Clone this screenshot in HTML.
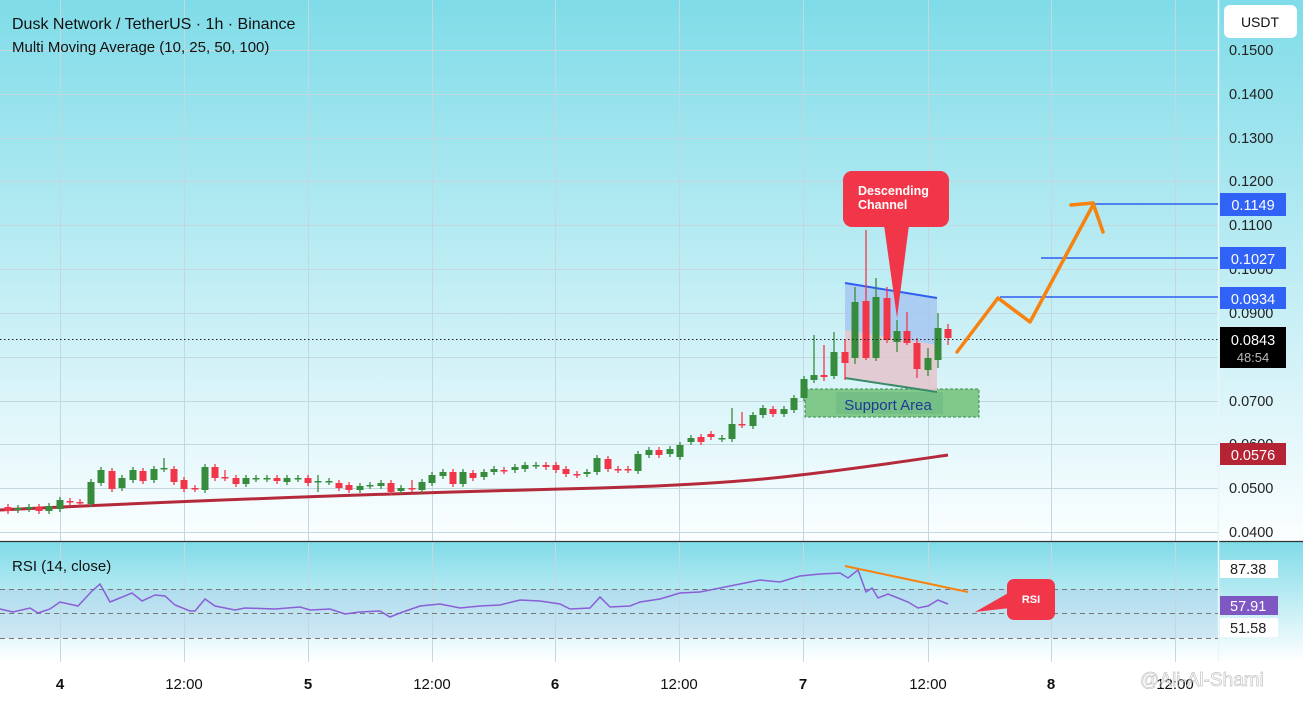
<!DOCTYPE html>
<html><head><meta charset="utf-8"><style>
body{margin:0;width:1303px;height:702px;overflow:hidden;font-family:"Liberation Sans",sans-serif;background:#fff}
</style></head><body>
<svg id="s" width="1303" height="702" xmlns="http://www.w3.org/2000/svg" font-family="Liberation Sans, sans-serif">
<defs>
<linearGradient id="g1" x1="0" y1="0" x2="0" y2="1"><stop offset="0" stop-color="#7fdce8"/><stop offset="0.55" stop-color="#c4eef5"/><stop offset="1" stop-color="#fbfeff"/></linearGradient>
<linearGradient id="g2" x1="0" y1="0" x2="0" y2="1"><stop offset="0" stop-color="#80dbe8"/><stop offset="1" stop-color="#ffffff"/></linearGradient>
</defs>
<rect x="0" y="0" width="1303" height="541" fill="url(#g1)"/>
<rect x="0" y="542" width="1303" height="120" fill="url(#g2)"/>
<rect x="0" y="662" width="1303" height="40" fill="#fff"/>
<rect x="0" y="589" width="1218" height="49" fill="#a9c8e8" opacity="0.35"/>
<g id="grid" stroke="#c3d8de" stroke-width="1"></g>
<line x1="0" y1="541.5" x2="1303" y2="541.5" stroke="#333" stroke-width="1.3"/>
<line x1="1218.5" y1="0" x2="1218.5" y2="662" stroke="#e8f6f8" stroke-width="1.5"/>
<g stroke="#777" stroke-dasharray="5,4" stroke-width="1"><line x1="0" y1="589.5" x2="1218" y2="589.5"/><line x1="0" y1="613.5" x2="1218" y2="613.5"/><line x1="0" y1="638.5" x2="1218" y2="638.5"/></g>
<rect x="805" y="389" width="174" height="28" fill="#80c98a" stroke="#3d8a55" stroke-dasharray="3,2"/>
<rect x="836" y="392" width="107" height="22" fill="#74bf86"/>
<text x="888" y="410" text-anchor="middle" font-size="15" fill="#1e3a96">Support Area</text>
<polygon points="845,283 937,298 937,345 845,330" fill="#a6c7f0" opacity="0.85"/>
<polygon points="845,330 937,345 937,392 845,378" fill="#e3c6cd" opacity="0.9"/>
<line x1="845" y1="283" x2="937" y2="298" stroke="#2e5df0" stroke-width="2"/>
<line x1="845" y1="378" x2="937" y2="392" stroke="#3b8a6a" stroke-width="2"/>
<path id="ma" d="M0,510 C200,500 400,493 600,488 C700,485 760,480 800,475 C860,468 900,462 948,455" fill="none" stroke="#b52a3b" stroke-width="3"/>
<g id="cd"></g>
<line x1="0" y1="339.5" x2="1218" y2="339.5" stroke="#222" stroke-dasharray="1.5,2.5" stroke-width="1"/>
<g stroke="#2e5df0" stroke-width="1.5"><line x1="1071" y1="204" x2="1218" y2="204"/><line x1="1041" y1="258" x2="1218" y2="258"/><line x1="1000" y1="297" x2="1218" y2="297"/></g>
<polyline points="957,352 998,298 1030,322 1093,205" fill="none" stroke="#f7820f" stroke-width="3.5" stroke-linejoin="round" stroke-linecap="round"/>
<polyline points="1071,205 1093,203 1103,232" fill="none" stroke="#f7820f" stroke-width="3.5" stroke-linecap="round"/>
<rect x="843" y="171" width="106" height="56" rx="9" fill="#f2364a"/>
<polygon points="884,225 909,225 897,318" fill="#f2364a"/>
<text x="858" y="195" font-size="12.5" font-weight="bold" fill="#fff">Descending</text>
<text x="858" y="209" font-size="12.5" font-weight="bold" fill="#fff">Channel</text>
<polyline id="rsi" fill="none" stroke="#8a5ed6" stroke-width="1.5"/>
<line x1="845" y1="566" x2="968" y2="592" stroke="#f7820f" stroke-width="2"/>
<rect x="1007" y="579" width="48" height="41" rx="7" fill="#f2364a"/>
<polygon points="1010,592 1010,608 975,612" fill="#f2364a"/>
<text x="1031" y="603" text-anchor="middle" font-size="11" font-weight="bold" fill="#fff">RSI</text>
<text x="12" y="571" font-size="15" fill="#111">RSI (14, close)</text>
<text x="12" y="29" font-size="16" fill="#111">Dusk Network / TetherUS · 1h · Binance</text>
<text x="12" y="52" font-size="15" fill="#111">Multi Moving Average (10, 25, 50, 100)</text>
<rect x="1224" y="5" width="73" height="33" rx="6" fill="#fff"/>
<text x="1260" y="27" text-anchor="middle" font-size="14" fill="#111">USDT</text>
<g id="ax" font-size="14.5" fill="#222"></g>
<rect x="1220" y="193" width="66" height="23" fill="#2f62f5"/><text x="1253" y="210" text-anchor="middle" font-size="14.5" fill="#fff">0.1149</text>
<rect x="1220" y="247" width="66" height="22" fill="#2f62f5"/><text x="1253" y="264" text-anchor="middle" font-size="14.5" fill="#fff">0.1027</text>
<rect x="1220" y="287" width="66" height="22" fill="#2f62f5"/><text x="1253" y="304" text-anchor="middle" font-size="14.5" fill="#fff">0.0934</text>
<rect x="1220" y="327" width="66" height="41" fill="#000"/><text x="1253" y="345" text-anchor="middle" font-size="14.5" fill="#fff">0.0843</text><text x="1253" y="362" text-anchor="middle" font-size="13" fill="#bbb">48:54</text>
<rect x="1220" y="443" width="66" height="22" fill="#b52435"/><text x="1253" y="460" text-anchor="middle" font-size="14.5" fill="#fff">0.0576</text>
<rect x="1220" y="560" width="58" height="18" fill="#fff"/><text x="1230" y="574" font-size="14.5" fill="#222">87.38</text>
<rect x="1220" y="596" width="58" height="19" fill="#7e57c2"/><text x="1230" y="611" font-size="14.5" fill="#fff">57.91</text>
<rect x="1220" y="618" width="58" height="19" fill="#fff"/><text x="1230" y="633" font-size="14.5" fill="#222">51.58</text>
<g id="tx" font-size="15" fill="#111" text-anchor="middle"></g>
<text x="1140" y="686" font-size="19" fill="none" stroke="#c4c4c4" stroke-width="0.7">@Ali-Al-Shami</text>
</svg>
<script>
var NS="http://www.w3.org/2000/svg";
function el(p,t,a,txt){var e=document.createElementNS(NS,t);for(var k in a)e.setAttribute(k,a[k]);if(txt)e.textContent=txt;var P=document.getElementById(p);P.appendChild(e);return e;}
var vx=[60,184,308,432,555,679,803,928,1051,1175];
vx.forEach(function(x){el("grid","line",{x1:x+.5,y1:0,x2:x+.5,y2:662});});
[50,94,138,181,225,269,313,357,401,444,488,532].forEach(function(y){el("grid","line",{x1:0,y1:y+.5,x2:1218,y2:y+.5});});
var labs=["4","12:00","5","12:00","6","12:00","7","12:00","8","12:00"];
vx.forEach(function(x,i){el("tx","text",{x:x,y:689,"font-weight":(labs[i].length<2?"bold":"normal")},labs[i]);});
var pr=["0.1500","0.1400","0.1300","0.1200","0.1100","0.1000","0.0900","0.0800","0.0700","0.0600","0.0500","0.0400"];
var ax=document.getElementById("ax");
[50,94,138,181,225,269,313,357,401,444,488,532].forEach(function(y,i){if(i==7)return;var t=el("ax","text",{x:1229,y:y+5},pr[i]);ax.insertBefore(t,ax.firstChild);});
var C=[[8,507,511,'r'],[18,508,510,'g'],[29,507,509,'g'],[39,507,511,'r'],[49,506,511,'g'],[60,500,509,'g'],[70,501,502,'r'],[80,502,503,'r'],[91,482,504,'g'],[101,470,483,'g'],[112,471,489,'r'],[122,478,488,'g'],[133,470,480,'g'],[143,471,481,'r'],[154,469,480,'g'],[164,468,469,'g',458],[174,469,482,'r'],[184,480,489,'r'],[195,488,489,'r'],[205,467,490,'g'],[215,467,478,'r'],[225,477,478,'r',470],[236,478,484,'r'],[246,478,484,'g'],[256,478,479,'g'],[267,478,479,'g'],[277,478,481,'r'],[287,478,482,'g'],[298,478,479,'g'],[308,478,483,'r'],[318,481,482,'g',475,492],[329,481,482,'g'],[339,483,488,'r'],[349,485,490,'r'],[360,486,490,'g'],[370,485,486,'g'],[381,483,486,'g'],[391,483,492,'r'],[401,488,491,'g'],[412,488,489,'r',480],[422,482,490,'g'],[432,475,483,'g'],[443,472,476,'g'],[453,472,484,'r'],[463,472,484,'g'],[473,473,478,'r'],[484,472,477,'g'],[494,469,472,'g'],[504,470,471,'r'],[515,467,470,'g'],[525,465,469,'g'],[536,465,466,'g'],[546,465,467,'r'],[556,465,470,'r'],[566,469,474,'r'],[577,474,475,'r'],[587,472,474,'g'],[597,458,472,'g'],[608,459,469,'r'],[618,469,470,'r'],[628,469,470,'r'],[638,454,471,'g'],[649,450,455,'g'],[659,450,455,'r'],[670,449,454,'g'],[680,445,457,'g'],[691,438,442,'g'],[701,437,442,'r'],[711,434,437,'r'],[722,438,439,'g'],[732,424,439,'g',408],[742,424,425,'r',412],[753,415,426,'g'],[763,408,415,'g'],[773,409,414,'r'],[784,409,414,'g'],[794,398,410,'g'],[804,379,398,'g'],[814,375,380,'g',335],[824,375,377,'r',345,381],[834,352,376,'g',332],[845,352,363,'r',340,380],[855,302,358,'g',287,364],[866,301,358,'r',230,360],[876,297,358,'g',278],[887,298,340,'r',287,343],[897,331,342,'g',320,352],[907,331,343,'r',312,345],[917,343,369,'r',338,378],[928,358,370,'g',348,376],[938,328,360,'g',313,368],[948,329,338,'r',324,345]];
C.forEach(function(c){var col=c[3]=='g'?'#368c3c':'#f2364a';var hi=c[4]||c[1]-3,lo=c[5]||c[2]+3;
el("cd","line",{x1:c[0],y1:hi,x2:c[0],y2:lo,stroke:col,"stroke-width":1.3});
el("cd","rect",{x:c[0]-3.5,y:c[1],width:7,height:Math.max(1.5,c[2]-c[1]),fill:col});});
var R=[[0,609],[13,612],[30,608],[38,613],[50,609],[60,602],[78,606],[92,591],[100,584],[110,602],[132,593],[142,601],[155,595],[165,596],[175,605],[190,611],[195,611],[205,599],[215,606],[235,610],[245,608],[275,609],[300,607],[310,610],[330,609],[345,614],[360,612],[380,611],[390,617],[400,613],[420,606],[440,604],[460,608],[480,606],[500,605],[520,600],[540,601],[560,604],[570,609],[590,608],[600,597],[610,607],[630,606],[640,602],[660,599],[680,593],[700,592],[720,588],[740,584],[760,580],[780,582],[800,576],[820,574],[840,573],[848,578],[858,570],[866,592],[872,588],[878,598],[888,594],[898,598],[908,602],[918,608],[928,606],[938,600],[948,604]];
document.getElementById("rsi").setAttribute("points",R.map(function(p){return p.join(",")}).join(" "));
</script>
</body></html>
